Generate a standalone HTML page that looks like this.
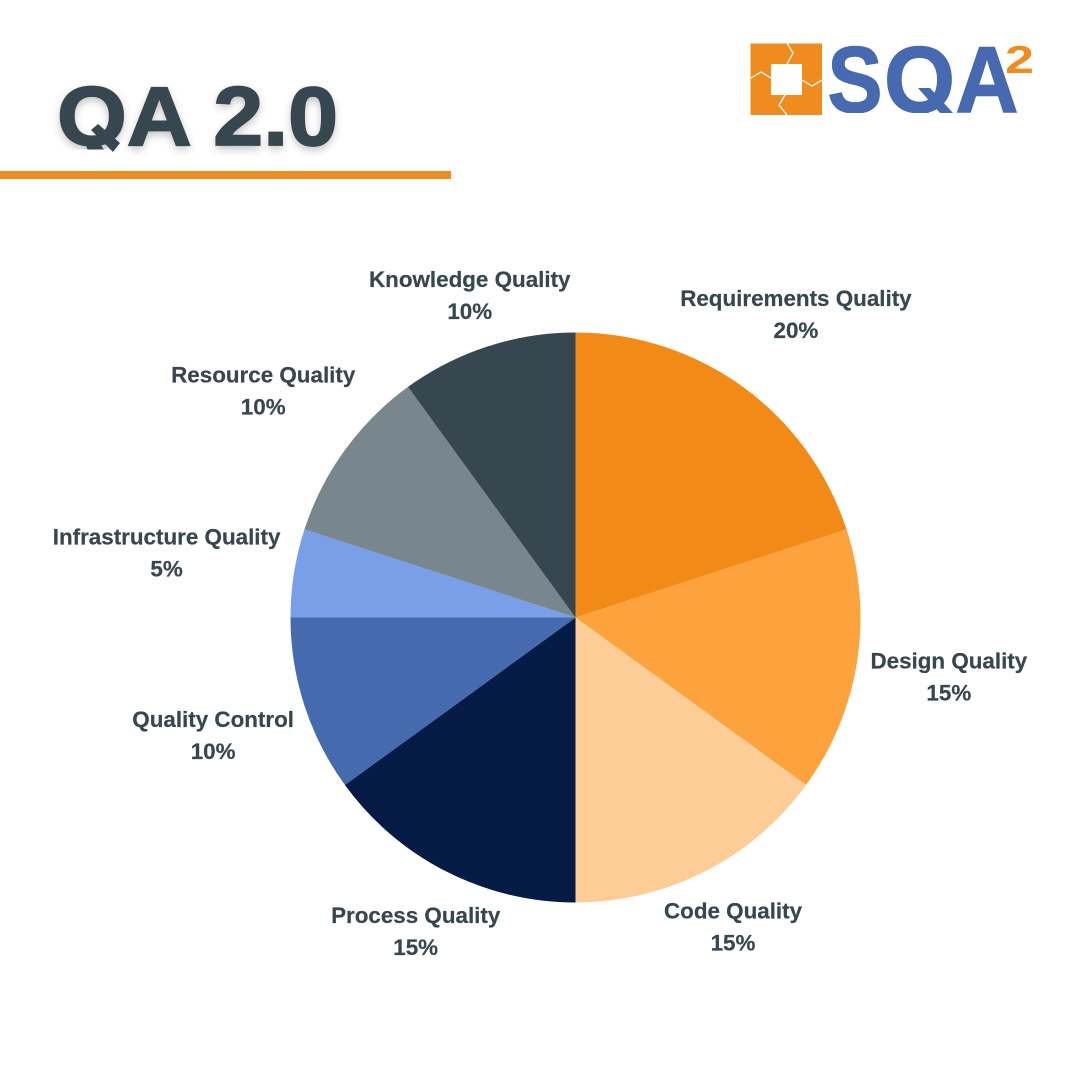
<!DOCTYPE html>
<html lang="en">
<head>
<meta charset="utf-8">
<title>QA 2.0</title>
<style>
html,body{margin:0;padding:0;background:#fff;}
#stage{position:relative;width:1080px;height:1080px;overflow:hidden;background:#fff;font-family:"Liberation Sans",sans-serif;}
#title{position:absolute;left:56.5px;top:57.5px;font-size:95px;line-height:110px;font-weight:700;color:#37474f;white-space:nowrap;transform:scale(.945,.88);transform-origin:0 88px;-webkit-text-stroke:2px #37474f;text-shadow:0 4px 10px rgba(0,0,0,.28);}
#title-q{display:inline-block;clip-path:inset(-20px -20px 18px -20px);}
#rule{position:absolute;left:0;top:171px;width:451px;height:8px;background:#ef8d1f;}
svg{position:absolute;left:0;top:0;}
.lbl{font-family:"Liberation Sans",sans-serif;font-weight:700;font-size:22.4px;fill:#37474f;stroke:#37474f;stroke-width:.2px;text-anchor:middle;}
.logo-letter{font-family:"Liberation Sans",sans-serif;font-weight:700;font-size:94px;fill:#4669af;stroke:#4669af;stroke-width:1.4px;}
</style>
</head>
<body>
<div id="stage">
  <div id="title"><span id="title-q">Q</span>A 2.0</div>
  <div id="rule"></div>
  <svg id="chart" width="1080" height="1080" viewBox="0 0 1080 1080" xmlns="http://www.w3.org/2000/svg">
    <defs>
      <clipPath id="logo-clip"><rect x="820" y="30" width="220" height="83"/></clipPath>
    </defs>
    <polygon points="91,130 98,124 120,143 113,152" fill="#37474f"/>
    <g>
      <rect x="750.5" y="43.5" width="71.5" height="71.5" fill="#f08c1e"/>
      <rect x="771" y="64" width="31" height="31" fill="#fff"/>
      <g fill="none" stroke="#fff" stroke-width="1.3">
        <polyline points="787,43 793,53 787,64"/>
        <polyline points="751,78 761,72 771,78"/>
        <polyline points="802,80 812,86 822,80"/>
        <polyline points="785,95 779,105 787,115"/>
      </g>
      <g clip-path="url(#logo-clip)">
        <text class="logo-letter" x="827.5" y="112" textLength="55" lengthAdjust="spacingAndGlyphs">S</text>
        <text class="logo-letter" x="884" y="112" textLength="71" lengthAdjust="spacingAndGlyphs">Q</text>
        <text class="logo-letter" x="955.5" y="112" textLength="63" lengthAdjust="spacingAndGlyphs">A</text>
      </g>
      <polygon points="918,88 930,88 953,113 940,113" fill="#4669af"/>
      <text x="1005" y="73" font-family="Liberation Sans" font-weight="700" font-size="39" fill="#f08c1e" textLength="29" lengthAdjust="spacingAndGlyphs">2</text>
    </g>
    <g id="slices"></g>
    <g id="labels"></g>
  </svg>
</div>
<script>
const categories = ["Requirements Quality","Design Quality","Code Quality","Process Quality","Quality Control","Infrastructure Quality","Resource Quality","Knowledge Quality"];
const shares = [20,15,15,15,10,5,10,10];
const sliceColors = ["#f18a16","#fca33e","#fdcd98","#051b45","#466aae","#7a9fe9","#78868d","#37474f"];

const cx = 575.5, cy = 617.5, radius = 285;
const labelDistance = [375,378,347,352,381,414,386,339];
const svgNS = "http://www.w3.org/2000/svg";
const total = shares.reduce(function(a,b){return a+b;},0);
function angleOf(v){ return v / total * Math.PI * 2; }
function px(a,r){ return cx + r * Math.sin(a); }
function py(a,r){ return cy - r * Math.cos(a); }

const sliceGroup = document.getElementById("slices");
const labelGroup = document.getElementById("labels");
let running = 0;
shares.forEach(function(v,i){
  const a0 = angleOf(running), a1 = angleOf(running + v), mid = (a0 + a1) / 2;
  running += v;
  const slug = categories[i].toLowerCase().replace(/\s+/g,"-");
  const path = document.createElementNS(svgNS,"path");
  path.setAttribute("d","M"+cx+" "+cy+"L"+px(a0,radius)+" "+py(a0,radius)+"A"+radius+" "+radius+" 0 "+((a1-a0)>Math.PI?1:0)+" 1 "+px(a1,radius)+" "+py(a1,radius)+"Z");
  path.setAttribute("fill",sliceColors[i]);
  
  
  sliceGroup.appendChild(path);

  const lx = px(mid,labelDistance[i]), ly = py(mid,labelDistance[i]);
  const t1 = document.createElementNS(svgNS,"text");
  t1.setAttribute("class","lbl");
  t1.setAttribute("x",lx-(i===7?1:0));
  t1.setAttribute("y",ly-8);
  t1.textContent = categories[i];
  
  
  labelGroup.appendChild(t1);
  const t2 = document.createElementNS(svgNS,"text");
  t2.setAttribute("class","lbl");
  t2.setAttribute("x",lx-(i===7?1:0));
  t2.setAttribute("y",ly+24);
  t2.textContent = v + "%";
  
  
  labelGroup.appendChild(t2);
});
</script>
</body>
</html>
